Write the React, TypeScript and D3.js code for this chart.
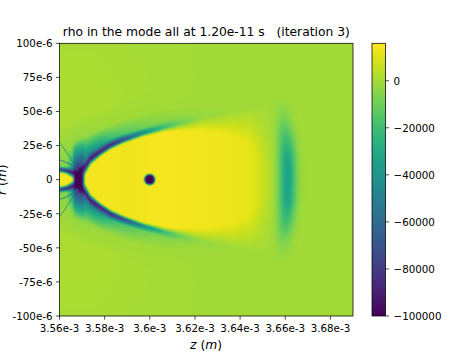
import React, { useMemo } from "react";
import * as d3 from "d3";

// Figure geometry
const W = 474, H = 355;
const AX = { l: 59.5, r: 353, t: 43.3, b: 316 };
const CB = { l: 372, r: 385.5 };

// Axis ranges
const zDomain = [3.56, 3.69];   // 1e-3 m
const rDomain = [-100, 100];    // 1e-6 m
const cDomain = [-100000, 15900];

const zTicks = [3.56, 3.58, 3.6, 3.62, 3.64, 3.66, 3.68];
const zTickLabels = ["3.56e-3", "3.58e-3", "3.6e-3", "3.62e-3", "3.64e-3", "3.66e-3", "3.68e-3"];
const rTicks = [100, 75, 50, 25, 0, -25, -50, -75, -100];
const rTickLabels = ["100e-6", "75e-6", "50e-6", "25e-6", "0", "-25e-6", "-50e-6", "-75e-6", "-100e-6"];
const cTicks = [0, -20000, -40000, -60000, -80000, -100000];
const cTickLabels = ["0", "\u221220000", "\u221240000", "\u221260000", "\u221280000", "\u2212100000"];

// Field: per z column, the radial profile (r in 1e-6 m, rho in C/m3)
const colZ =     [3.56, 3.5631, 3.566, 3.5666, 3.5702, 3.5713, 3.5737, 3.5781, 3.5826, 3.5883, 3.5971, 3.6016, 3.6069, 3.6135, 3.6224, 3.6356, 3.6445, 3.648, 3.6511, 3.6542, 3.6568, 3.69];
const interior = [14000, 14000, 14000, -100000, -100000, 14000, 14000, 14000, 14000, 13000, 13500, 14500, 14500, 14000, 13500, 12500, 11500, 9000, 5500, 2000, 0, 0];
const innerR =   [5, 4, 0.8, 1, 3, 3, 10.5, 17, 22, 26.5, 31.5, 33, 35, 36, 36, 33, 26, 18, 9, 3, 2, 2];
const shellR =   [7.5, 6.5, 4.5, 5, 8, 9, 15, 20, 25, 29, 34, 36, 38.5, 41, 45, 50, 52, 52, 52, 52, 52, 52];
const shellV =   [-90000, -100000, -100000, -100000, -100000, -100000, -100000, -97000, -97000, -85000, -50000, -35000, -22000, -10000, -3000, -1000, 0, 0, 0, 0, 0, 0];
const midR =     [9.5, 9, 9, 10, 11, 14, 20.5, 25.5, 29.5, 33, 37.5, 40, 43, 46, 50, 56, 58, 58, 58, 58, 58, 58];
const midV =     [-6000, -6000, -35000, -70000, -75000, -50000, -40000, -33000, -22000, -16000, -10000, -7000, -5000, -3000, -1200, 0, 0, 0, 0, 0, 0, 0];
const outerR =   [18, 20, 26, 28, 31, 31, 33, 37, 40, 44, 48, 50, 52, 54, 56, 66, 66, 66, 66, 66, 66, 66];
const outerV =   [-3000, -3000, -3000, -3000, -3000, -3000, -2500, -1500, -1000, -500, -300, -200, 0, 0, 0, 0, 0, 0, 0, 0, 0, 0];
const bumpR =    [42, 44, 46, 46, 48, 48, 50, 52, 56, 60, 64, 66, 68, 70, 72, 78, 78, 78, 78, 78, 78, 78];
const bumpV =    [1800, 1800, 1800, 1800, 1800, 1800, 1800, 1600, 1300, 1000, 700, 500, 300, 200, 0, 0, 0, 0, 0, 0, 0, 0];
const farR = 99;

// Vertical stripe near z = 3.66e-3
const stripeR = [0, 15, 30, 45, 55, 65];
const stripeZ = [3.6612, 3.6611, 3.6606, 3.6596, 3.659, 3.659];
const stripeV = [-33000, -32000, -20000, -7000, -2500, 0];
const stripeSigma = 0.0026;

// Ball
const ballZ = [3.6];
const ballR = [0];
const ballHalfZ = 0.0022;
const ballHalfR = 3.7;

// Thin filaments left of the blob
const filamentA = [[3.5602, 27], [3.5648, 15.8], [3.568, 7]];
const filamentB = [[3.5602, 14.5], [3.5653, 10.6], [3.5684, 5.5]];

const x = d3.scaleLinear().domain(zDomain).range([AX.l, AX.r]);
const y = d3.scaleLinear().domain(rDomain).range([AX.b, AX.t]);
const cy = d3.scaleLinear().domain(cDomain).range([AX.b, AX.t]);
const colorOf = (v: number) => d3.interpolateViridis(Math.max(0, Math.min(1, (v - cDomain[0]) / (cDomain[1] - cDomain[0]))));

function rho(z: number, rSigned: number): number {
  const r = Math.abs(rSigned);
  const i = Math.max(1, Math.min(colZ.length - 1, d3.bisectRight(colZ, z)));
  const t = (z - colZ[i - 1]) / (colZ[i] - colZ[i - 1]);
  const m = (a: number[]) => a[i - 1] + (a[i] - a[i - 1]) * t;
  const dom = [0, m(innerR), m(shellR), m(midR), m(outerR), m(bumpR), farR + 50];
  const iv = m(interior);
  const rng = [iv, iv, m(shellV), m(midV), m(outerV), m(bumpV), 0];
  let v = d3.scaleLinear().domain(dom).range(rng)(r);
  // stripe
  const sv = d3.scaleLinear().domain(stripeR).range(stripeV).clamp(true)(r);
  const sz = d3.scaleLinear().domain(stripeR).range(stripeZ).clamp(true)(r);
  const dz = (z - sz) / stripeSigma;
  v += sv * Math.exp(-0.5 * dz * dz);
  // ball
  const d = Math.hypot((z - ballZ[0]) / ballHalfZ, (rSigned - ballR[0]) / ballHalfR);
  if (d < 1.1) v = d3.scaleLinear().domain([0.95, 1.1]).range([-100000, v]).clamp(true)(d);
  return v;
}

function fieldImage(): string {
  const w = Math.round(AX.r - AX.l), h = Math.round(AX.b - AX.t);
  const vals = new Float64Array(w * h);
  for (let j = 0; j < h; j++) for (let i = 0; i < w; i++) {
    vals[j * w + i] = rho(x.invert(AX.l + i + 0.5), y.invert(AX.t + j + 0.5));
  }
  const at = (i: number, j: number) => vals[Math.max(0, Math.min(h - 1, j)) * w + Math.max(0, Math.min(w - 1, i))];
  const c = document.createElement("canvas");
  c.width = w; c.height = h;
  const ctx = c.getContext("2d")!;
  const img = ctx.createImageData(w, h);
  for (let j = 0; j < h; j++) for (let i = 0; i < w; i++) {
    let s = 0;
    for (let a = -1; a <= 1; a++) for (let b = -1; b <= 1; b++) {
      s += at(i + a, j + b) * (a === 0 ? 2 : 1) * (b === 0 ? 2 : 1);
    }
    const col = d3.rgb(colorOf(s / 16));
    const k = (j * w + i) * 4;
    img.data[k] = col.r; img.data[k + 1] = col.g; img.data[k + 2] = col.b; img.data[k + 3] = 255;
  }
  ctx.putImageData(img, 0, 0);
  return c.toDataURL();
}

const FONT = "'DejaVu Sans', sans-serif";
const FS = 10.3;

export default function App() {
  const href = useMemo(fieldImage, []);
  const line = d3.line<number[]>().x((d) => x(d[0])).y((d) => y(d[1])).curve(d3.curveCatmullRom);
  const mirror = (p: number[][]) => p.map(([a, b]) => [a, -b]);
  const stops = d3.range(0, 1.001, 0.05);
  return (
    <svg width={W} height={H} viewBox={`0 0 ${W} ${H}`} style={{ position: "absolute", left: 0, top: 0, background: "#fff" }} fontFamily={FONT}>
      <defs>
        <clipPath id="ax"><rect x={AX.l} y={AX.t} width={AX.r - AX.l} height={AX.b - AX.t} /></clipPath>
        <linearGradient id="cb" x1="0" y1="1" x2="0" y2="0">
          {stops.map((s) => <stop key={s} offset={s} stopColor={d3.interpolateViridis(s)} />)}
        </linearGradient>
      </defs>
      <image href={href} x={AX.l} y={AX.t} width={AX.r - AX.l} height={AX.b - AX.t} preserveAspectRatio="none" />
      <g clipPath="url(#ax)" fill="none">
        {[filamentA, mirror(filamentA)].map((p, i) => <path key={i} d={line(p)!} stroke="#1f7f8c" strokeWidth={0.9} opacity={0.8} />)}
        {[filamentB, mirror(filamentB)].map((p, i) => <path key={i} d={line(p)!} stroke="#21688c" strokeWidth={1} opacity={0.85} />)}
      </g>
      <rect x={AX.l} y={AX.t} width={AX.r - AX.l} height={AX.b - AX.t} fill="none" stroke="#000" strokeWidth={0.75} />
      {zTicks.map((t, i) => (
        <g key={t}>
          <line x1={x(t)} x2={x(t)} y1={AX.b} y2={AX.b + 3.6} stroke="#000" strokeWidth={0.7} />
          <text x={x(t)} y={AX.b + 16} textAnchor="middle" fontSize={FS} fill="#000">{zTickLabels[i]}</text>
        </g>
      ))}
      {rTicks.map((t, i) => (
        <g key={t}>
          <line x1={AX.l - 3.6} x2={AX.l} y1={y(t)} y2={y(t)} stroke="#000" strokeWidth={0.7} />
          <text x={AX.l - 7} y={y(t) + 3.8} textAnchor="end" fontSize={FS} fill="#000">{rTickLabels[i]}</text>
        </g>
      ))}
      <text x={206} y={349} textAnchor="middle" fontSize={12.3} fill="#000">
        <tspan fontStyle="italic">z</tspan> (<tspan fontStyle="italic">m</tspan>)
      </text>
      <text transform={`translate(5.5,${(AX.t + AX.b) / 2}) rotate(-90)`} textAnchor="middle" fontSize={12.3} fill="#000">
        <tspan fontStyle="italic">r</tspan> (<tspan fontStyle="italic">m</tspan>)
      </text>
      <text x={206.3} y={36} textAnchor="middle" fontSize={12.3} fill="#000" xmlSpace="preserve">{"rho in the mode all at 1.20e-11 s   (iteration 3)"}</text>
      <rect x={CB.l} y={AX.t} width={CB.r - CB.l} height={AX.b - AX.t} fill="url(#cb)" stroke="#000" strokeWidth={0.75} />
      {cTicks.map((t, i) => (
        <g key={t}>
          <line x1={CB.r} x2={CB.r + 3.6} y1={cy(t)} y2={cy(t)} stroke="#000" strokeWidth={0.7} />
          <text x={CB.r + 8} y={cy(t) + 3.8} fontSize={FS} fill="#000">{cTickLabels[i]}</text>
        </g>
      ))}
    </svg>
  );
}
